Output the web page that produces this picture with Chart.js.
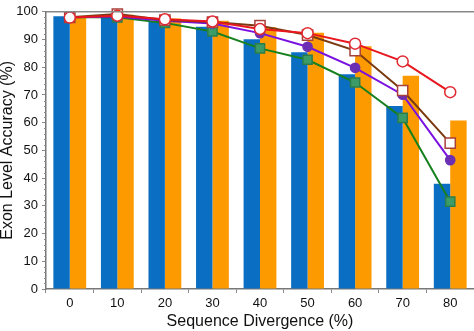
<!DOCTYPE html>
<html lang="en">
<head>
  <meta charset="UTF-8">
  <title>Exon Level Accuracy</title>
  <style>
    html, body { margin: 0; background: white; overflow: hidden; }
    canvas { display: block; }
  </style>
</head>
<body>
  <canvas id="chart" width="474" height="331"></canvas>

  <script src="https://cdn.jsdelivr.net/npm/chart.js"></script>
  <script>
    const divergence = ['0', '10', '20', '30', '40', '50', '60', '70', '80'];
    const blueBars   = [98.4, 98.2, 96.7, 94.6, 90.1, 85.4, 77.5, 66.0, 38.0];
    const orangeBars = [98.0, 98.9, 97.6, 96.8, 94.4, 92.4, 87.6, 76.9, 60.8];
    const redCircles   = [97.9, 98.6, 97.3, 96.5, 93.8, 92.3, 88.5, 82.1, 71.0];
    const brownSquares = [98.0, 99.2, 97.0, 96.3, 95.0, 91.6, 86.0, 71.6, 52.6];
    const purpleDots   = [98.0, 98.3, 96.8, 95.8, 92.3, 87.4, 79.8, 70.1, 46.5];
    const greenSquares = [98.0, 98.0, 96.0, 92.9, 86.8, 82.7, 74.5, 61.7, 31.5];

    // top border + minor ticks on the y axis
    const frame = {
      id: 'frame',
      afterDraw(chart) {
        const { ctx, chartArea: a, scales: { y } } = chart;
        ctx.save();
        ctx.strokeStyle = '#888';
        ctx.lineWidth = 1.5;
        ctx.beginPath();
        ctx.moveTo(a.left, a.top);
        ctx.lineTo(a.right, a.top);
        ctx.stroke();
        ctx.lineWidth = 1;
        ctx.beginPath();
        for (let v = 0; v <= 100; v += 2) {
          if (v % 10 === 0) continue;
          const py = Math.round(y.getPixelForValue(v)) + 0.5;
          ctx.moveTo(a.left - 2, py);
          ctx.lineTo(a.left, py);
        }
        ctx.stroke();
        ctx.restore();
      }
    };

    const line = (data, color, extra) => Object.assign({
      type: 'line',
      data: data,
      borderColor: color,
      borderWidth: 2,
      tension: 0,
      pointBorderWidth: 1.5,
      clip: false
    }, extra);

    new Chart(document.getElementById('chart'), {
      type: 'bar',
      data: {
        labels: divergence,
        datasets: [
          line(redCircles, '#e8161e', { order: 1, pointStyle: 'circle', pointRadius: 5.5,
            pointBackgroundColor: '#fff', pointBorderColor: '#e02a32' }),
          line(brownSquares, '#7a3a12', { order: 2, pointStyle: 'rect', pointRadius: 7.2,
            pointBackgroundColor: '#fff', pointBorderColor: '#a8403a' }),
          line(purpleDots, '#7a10e0', { order: 3, pointStyle: 'circle', pointRadius: 4.6,
            pointBackgroundColor: '#6c2fb4', pointBorderColor: '#6c2fb4' }),
          line(greenSquares, '#17801e', { order: 4, pointStyle: 'rect', pointRadius: 6.5,
            pointBackgroundColor: '#3c9c68', pointBorderColor: '#2d7d4c' }),
          { data: blueBars, backgroundColor: '#0a6fc2', order: 10,
            categoryPercentage: 0.69, barPercentage: 1 },
          { data: orangeBars, backgroundColor: '#fd9a00', order: 10,
            categoryPercentage: 0.69, barPercentage: 1 }
        ]
      },
      options: {
        responsive: false,
        animation: false,
        layout: { autoPadding: false, padding: { top: 4, right: 0, left: 0, bottom: 0 } },
        plugins: { legend: { display: false }, tooltip: { enabled: false } },
        scales: {
          x: {
            afterFit(s) { s.height = 42; },
            grid: { drawOnChartArea: false, drawTicks: true, tickLength: 4, color: '#888' },
            border: { color: '#777', width: 1.5 },
            ticks: { color: '#111', padding: 3, font: { family: 'Liberation Sans', size: 13 } },
            title: {
              display: true, text: 'Sequence Divergence (%)', color: '#111',
              font: { family: 'Liberation Sans', size: 16, lineHeight: 1 },
              padding: { top: 0, bottom: 1 }
            }
          },
          y: {
            min: 0, max: 100,
            afterFit(s) { s.width = 46; },
            grid: { drawOnChartArea: false, drawTicks: true, tickLength: 4, color: '#888' },
            border: { color: '#777', width: 1.5 },
            ticks: { stepSize: 10, color: '#111', padding: 4,
              font: { family: 'Liberation Sans', size: 13 } },
            title: {
              display: true, text: 'Exon Level Accuracy (%)', color: '#111',
              font: { family: 'Liberation Sans', size: 16, lineHeight: 1 },
              padding: { top: 0, bottom: 0 }
            }
          }
        }
      },
      plugins: [frame]
    });
  </script>
</body>
</html>
